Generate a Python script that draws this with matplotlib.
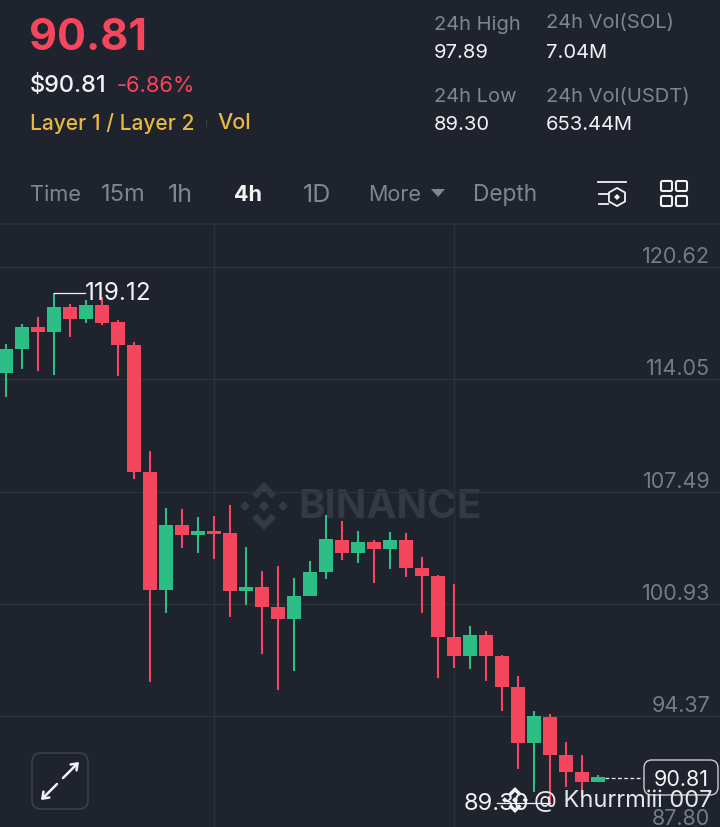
#!/usr/bin/env python3
import matplotlib
matplotlib.use('Agg')
import matplotlib.pyplot as plt
from matplotlib.patches import FancyBboxPatch, Polygon, Rectangle

plt.rcParams['font.family'] = ['Inter', 'DejaVu Sans']

# Candles, 4h
opens = [114.44, 115.81, 117.10, 116.80, 118.26, 117.60, 118.38, 117.41, 116.06, 108.64,
         101.74, 105.56, 104.96, 105.21, 105.06, 101.68, 101.94, 100.77, 100.05, 101.41,
         102.78, 104.66, 103.89, 104.55, 104.14, 104.68, 103.01, 102.56, 99.01, 97.88,
         99.11, 97.88, 96.09, 92.78, 94.34, 92.08, 91.11, 90.52]
closes = [115.81, 117.10, 116.80, 118.30, 117.60, 118.38, 117.36, 116.04, 108.64, 101.74,
          105.56, 104.96, 105.21, 105.02, 101.67, 101.94, 100.77, 100.05, 101.41, 102.78,
          104.71, 103.89, 104.55, 104.14, 104.68, 103.01, 102.56, 99.01, 97.88, 99.11,
          97.88, 96.09, 92.78, 94.38, 92.10, 91.11, 90.52, 90.81]
highs = [116.12, 117.29, 117.68, 119.12, 118.46, 118.69, 118.88, 117.52, 116.22, 109.85,
         106.53, 106.46, 106.03, 106.07, 106.69, 104.27, 102.87, 103.16, 102.43, 103.44,
         106.13, 105.77, 105.21, 104.66, 105.11, 105.06, 103.65, 102.60, 102.09, 99.64,
         99.33, 97.94, 96.72, 94.69, 94.48, 92.86, 92.10, 90.91]
lows = [113.00, 114.66, 114.56, 114.33, 116.51, 117.36, 117.21, 114.25, 108.21, 96.35,
        100.38, 104.20, 103.92, 103.57, 100.15, 100.88, 98.00, 95.90, 97.03, 101.41,
        102.37, 103.50, 103.30, 102.17, 102.95, 102.48, 100.38, 96.60, 97.18, 97.13,
        96.44, 94.69, 91.28, 89.95, 89.30, 90.21, 89.64, 90.52]

price_ticks = [120.62, 114.05, 107.49, 100.93, 94.37, 87.80]
vgrid = [13, 28]

RED = '#f6465d'
GREEN = '#2ebd85'
BG = '#1e232d'
GRID = '#2c323b'
GREY = '#7d8694'
TICK = '#737c89'
WHITE = '#f2f3f5'
YELLOW = '#e8b93e'

fig = plt.figure(figsize=(7.2, 8.27), dpi=100, facecolor=BG)

# back layer in pixels, for the watermark
back = fig.add_axes([0, 0, 1, 1], zorder=0)
back.set_xlim(0, 720)
back.set_ylim(827, 0)
back.axis('off')


def logo(ax, cx, cy, r, color, **kw):
    s = r / 24
    shapes = [
        [(0, -24), (12, -12), (7.5, -7.5), (0, -15), (-7.5, -7.5), (-12, -12)],
        [(0, 24), (12, 12), (7.5, 7.5), (0, 15), (-7.5, 7.5), (-12, 12)],
        [(-24, 0), (-19, -5), (-14, 0), (-19, 5)],
        [(24, 0), (19, -5), (14, 0), (19, 5)],
        [(0, -5.5), (5.5, 0), (0, 5.5), (-5.5, 0)],
    ]
    for p in shapes:
        ax.add_patch(Polygon([(cx + s * a, cy + s * b) for a, b in p], closed=True,
                             facecolor=color, edgecolor='none', **kw))


logo(back, 264, 506, 24, '#343a45')
back.text(298, 508, 'BINANCE', color='#343a45', fontsize=29, fontweight='bold',
          va='center', ha='left')

# chart
px_top, px_bot = 224, 830
ax = fig.add_axes([0, 1 - px_bot / 827, 1, (px_bot - px_top) / 827], zorder=1)
ax.patch.set_alpha(0)
ax.set_xlim(-0.375, 44.625)
ax.set_ylim(120.62 - (px_bot - 267) * 0.058445, 120.62 + (267 - px_top) * 0.058445)
for s in ax.spines.values():
    s.set_visible(False)

ax.set_xticks([])
ax.set_yticks(price_ticks)
ax.set_yticklabels([f'{p:.2f}' for p in price_ticks], va='bottom')
ax.yaxis.tick_right()
ax.tick_params(axis='y', direction='in', length=0, pad=-7, labelsize=15.5, labelcolor=TICK,
               labelright=True, labelleft=False)
for t in ax.get_yticklabels():
    t.set_ha('right')
ax.grid(axis='y', color=GRID, lw=1.0)
ax.set_axisbelow(True)
for v in vgrid:
    ax.axvline(v, color=GRID, lw=1.0, zorder=0.5)

xs = list(range(len(opens)))
colors = [GREEN if c >= o else RED for o, c in zip(opens, closes)]
ax.vlines(xs, lows, highs, colors=colors, lw=1.5, zorder=2)
ax.bar(xs, [abs(c - o) for o, c in zip(opens, closes)],
       bottom=[min(o, c) for o, c in zip(opens, closes)],
       width=0.875, color=colors, linewidth=0, zorder=3)

# top layer in pixels, for the header and the notes on the chart
top = fig.add_axes([0, 0, 1, 1], zorder=2)
top.patch.set_alpha(0)
top.set_xlim(0, 720)
top.set_ylim(827, 0)
top.axis('off')


def label(x, y, s, color, size, weight='normal', ha='left'):
    top.text(x, y, s, color=color, fontsize=size, fontweight=weight, ha=ha, va='center')


label(29, 38, '90.81', RED, 31, 'bold')
label(30, 86, '$90.81', WHITE, 17, 'medium')
label(117, 86, '-6.86%', RED, 15.8)
label(30, 123, 'Layer 1 / Layer 2', YELLOW, 15.1, 'medium')
top.plot([206, 206], [120, 126], color='#3a404a', lw=0.8)
label(217, 123, 'Vol', YELLOW, 15.5, 'medium')

label(434, 25, '24h High', GREY, 14.5)
label(434, 53, '97.89', WHITE, 14.5)
label(434, 97, '24h Low', GREY, 14.5)
label(434, 125, '89.30', WHITE, 14.5)
label(546, 23, '24h Vol(SOL)', GREY, 14.5)
label(546, 53, '7.04M', WHITE, 14.5)
label(546, 97, '24h Vol(USDT)', GREY, 14.5)
label(546, 125, '653.44M', WHITE, 14.5)

label(30, 195, 'Time', GREY, 15.7)
label(101, 195, '15m', GREY, 17)
label(168, 195, '1h', GREY, 18)
label(234, 195, '4h', WHITE, 15.5, 'bold')
label(303, 195, '1D', GREY, 18)
label(368, 195, 'More', GREY, 15.5)
top.add_patch(Polygon([(431, 189), (445, 189), (438, 197)], closed=True, facecolor=GREY,
                      edgecolor='none'))
label(473, 195, 'Depth', GREY, 16.3)
top.plot([0, 720], [223.5, 223.5], color=GRID, lw=1.2)

# depth icon
top.plot([598, 626], [182, 182], color=WHITE, lw=1.3)
top.plot([599, 608], [194, 194], color=WHITE, lw=1.3)
top.plot([599, 608], [204, 204], color=WHITE, lw=1.3)
top.add_patch(Polygon([(617, 188), (625, 192.5), (625, 201.5), (617, 206), (609, 201.5),
                       (609, 192.5)], closed=True, fill=False, edgecolor=WHITE, lw=1.3))
top.add_patch(Polygon([(617, 194), (620, 197), (617, 200), (614, 197)], closed=True,
                      facecolor=WHITE, edgecolor='none'))
# layout icon
for x0 in (661, 676):
    for y0 in (181, 196):
        top.add_patch(FancyBboxPatch((x0, y0), 11, 10, boxstyle='round,pad=0,rounding_size=1.5',
                                     fill=False, edgecolor=WHITE, lw=1.5))

# fullscreen button
top.add_patch(FancyBboxPatch((32, 753), 56, 56, boxstyle='round,pad=0,rounding_size=9',
                             facecolor=BG, edgecolor='#3a404a', lw=1.2))
top.annotate('', xy=(79, 762), xytext=(63, 778),
             arrowprops=dict(arrowstyle='->,head_length=0.4,head_width=0.3', color=WHITE, lw=1.8,
                             shrinkA=0, shrinkB=0))
top.annotate('', xy=(41, 800), xytext=(57, 784),
             arrowprops=dict(arrowstyle='->,head_length=0.4,head_width=0.3', color=WHITE, lw=1.8,
                             shrinkA=0, shrinkB=0))

# high and low notes
top.plot([54, 85], [292.5, 292.5], color=WHITE, lw=0.9)
label(85, 294, '119.12', WHITE, 17.5)
top.plot([497, 550], [803, 803], color=WHITE, lw=0.9)
label(464, 804, '89.30', WHITE, 17)

# last price
top.plot([605, 643], [778, 778], color=WHITE, lw=0.9, ls=(0, (3, 2)))
top.add_patch(FancyBboxPatch((644, 760), 74, 35, boxstyle='round,pad=0,rounding_size=8',
                             facecolor=BG, edgecolor='#c9ccd1', lw=1.0))
label(681, 780, '90.81', WHITE, 15.5, ha='center')

# watermark of the poster
logo(top, 515, 800, 13, WHITE)
label(534, 801, '@ Khurrmiii 007', '#e6e7ea', 17)

fig.savefig('out.png', dpi=100, facecolor=BG)
